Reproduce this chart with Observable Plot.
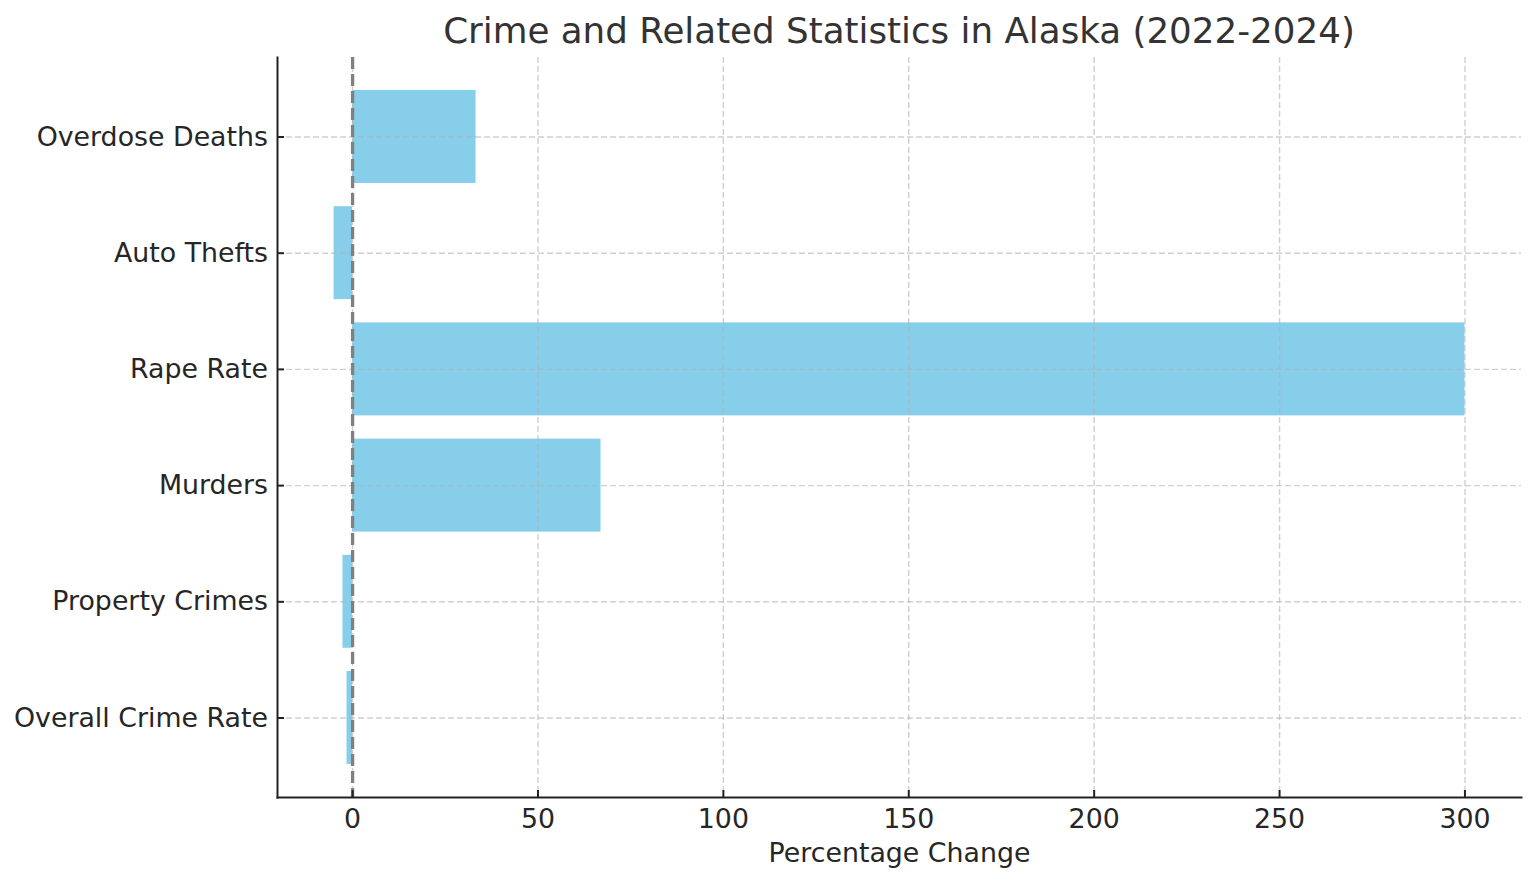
<!DOCTYPE html>
<html><head><meta charset="utf-8">
<script src="https://cdn.jsdelivr.net/npm/d3@7"></script>
<script src="https://cdn.jsdelivr.net/npm/@observablehq/plot@0.6"></script>
<style>
body{margin:0;background:#fff;font-family:"DejaVu Sans",sans-serif;}
#title{height:50px;margin-left:277px;width:1244px;text-align:center;font-size:35.7px;color:#333;line-height:62px;white-space:nowrap;}
#chart{height:833px;}
</style></head><body>
<div id="title">Crime and Related Statistics in Alaska (2022-2024)</div>
<div id="chart"></div>
<script>
// top to bottom
const categories = ["Overdose Deaths","Auto Thefts","Rape Rate","Murders","Property Crimes","Overall Crime Rate"];
const changes = [33.3, -5, 300, 67, -2.6, -1.5];
const xTicks = [0, 50, 100, 150, 200, 250, 300];
const xLabel = "Percentage Change";

const data = categories.map((c, i) => ({category: c, value: changes[i]}));

const plot = Plot.plot({
  width: 1536, height: 833,
  marginLeft: 277, marginRight: 15, marginTop: 7, marginBottom: 86,
  style: {fontFamily: "DejaVu Sans", fontSize: "26.8px", color: "#262626", background: "#fff"},
  x: {domain: [-20.25, 315.25]},
  y: {domain: categories, paddingInner: 0.2, paddingOuter: 0.284, round: false},
  marks: [
    Plot.barX(data, {x: "value", y: "category", fill: "#87CEEB"}),
    Plot.gridX(xTicks, {stroke: "#b0b0b0", strokeOpacity: 0.6, strokeWidth: 1.4, strokeDasharray: "6,3"}),
    Plot.gridY(categories, {stroke: "#b0b0b0", strokeOpacity: 0.6, strokeWidth: 1.4, strokeDasharray: "6,3"}),
    Plot.ruleX([0], {stroke: "#808080", strokeWidth: 3.3, strokeDasharray: "12,5"}),
    Plot.frame({anchor: "left", stroke: "#222", strokeWidth: 2}),
    Plot.frame({anchor: "bottom", stroke: "#222", strokeWidth: 2}),
    Plot.axisX(xTicks, {tickSize: -7, tickPadding: 18, stroke: "#222", strokeWidth: 2, fontSize: 26.8, label: null}),
    Plot.axisY(categories, {tickSize: -7, tickPadding: 16.5, stroke: "#222", strokeWidth: 2, fontSize: 26.8, label: null}),
    Plot.text([xLabel], {text: d => d, frameAnchor: "bottom", lineAnchor: "top", dy: 45, fontSize: 26.8, fill: "#262626"})
  ]
});
document.getElementById("chart").appendChild(plot);
</script>
</body></html>
